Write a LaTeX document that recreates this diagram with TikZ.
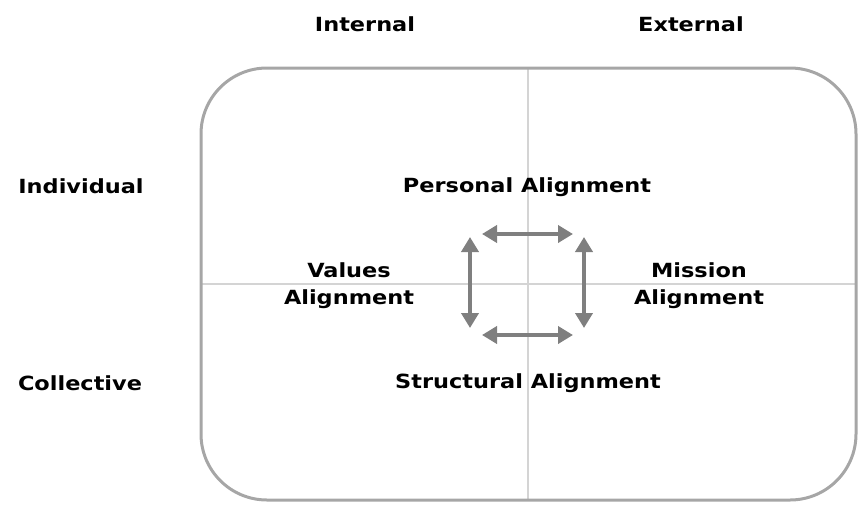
\documentclass[tikz,border=0pt]{standalone}
\usepackage{fontspec}
\setmainfont{DejaVu Sans}
\newfontfamily\widefont[FakeStretch=1.15]{DejaVu Sans}
\usetikzlibrary{arrows.meta}
\definecolor{boxgray}{HTML}{A6A6A6}
\definecolor{linegray}{HTML}{D4D4D4}
\definecolor{arrgray}{HTML}{7F7F7F}
\tikzset{
  lbl/.style={font=\widefont\bfseries\fontsize{19.5}{27}\selectfont, text=black, inner sep=0pt, align=center},
  dbl/.style={draw=arrgray, line width=4.5pt, {Triangle[width=17pt,length=15pt]}-{Triangle[width=17pt,length=15pt]}},
}
\begin{document}
\begin{tikzpicture}[x=1pt,y=-1pt]
\useasboundingbox (0,0) rectangle (859,504);
% quadrant lines
\coordinate (vt) at (528,68);
\coordinate (vb) at (528,500);
\coordinate (hl) at (201,284);
\coordinate (hr) at (856,284);
\draw[linegray, line width=2pt] (vt) -- (vb);
\draw[linegray, line width=2pt] (hl) -- (hr);
% frame
\draw[boxgray, line width=3pt, rounded corners=66pt] (201,68) rectangle (856,500);
% labels
\node[lbl] (int) at (365,24) {Internal};
\node[lbl] (ext) at (691,24) {External};
\node[lbl] (ind) at (81,186) {Individual};
\node[lbl] (col) at (80,383) {Collective};
\node[lbl] (pers) at (527,187) {Personal Alignment};
\node[lbl] (val) at (349,286) {Values\\Alignment};
\node[lbl] (mis) at (699,286) {Mission\\Alignment};
\node[lbl] (str) at (528,383) {Structural Alignment};
% arrows
\coordinate (t1) at (482,234); \coordinate (t2) at (573,234);
\coordinate (b1) at (482,335); \coordinate (b2) at (573,335);
\coordinate (l1) at (470,237); \coordinate (l2) at (470,328);
\coordinate (r1) at (584,237); \coordinate (r2) at (584,328);
\draw[dbl] (t1) -- (t2);
\draw[dbl] (b1) -- (b2);
\draw[dbl] (l1) -- (l2);
\draw[dbl] (r1) -- (r2);
\end{tikzpicture}
\end{document}
